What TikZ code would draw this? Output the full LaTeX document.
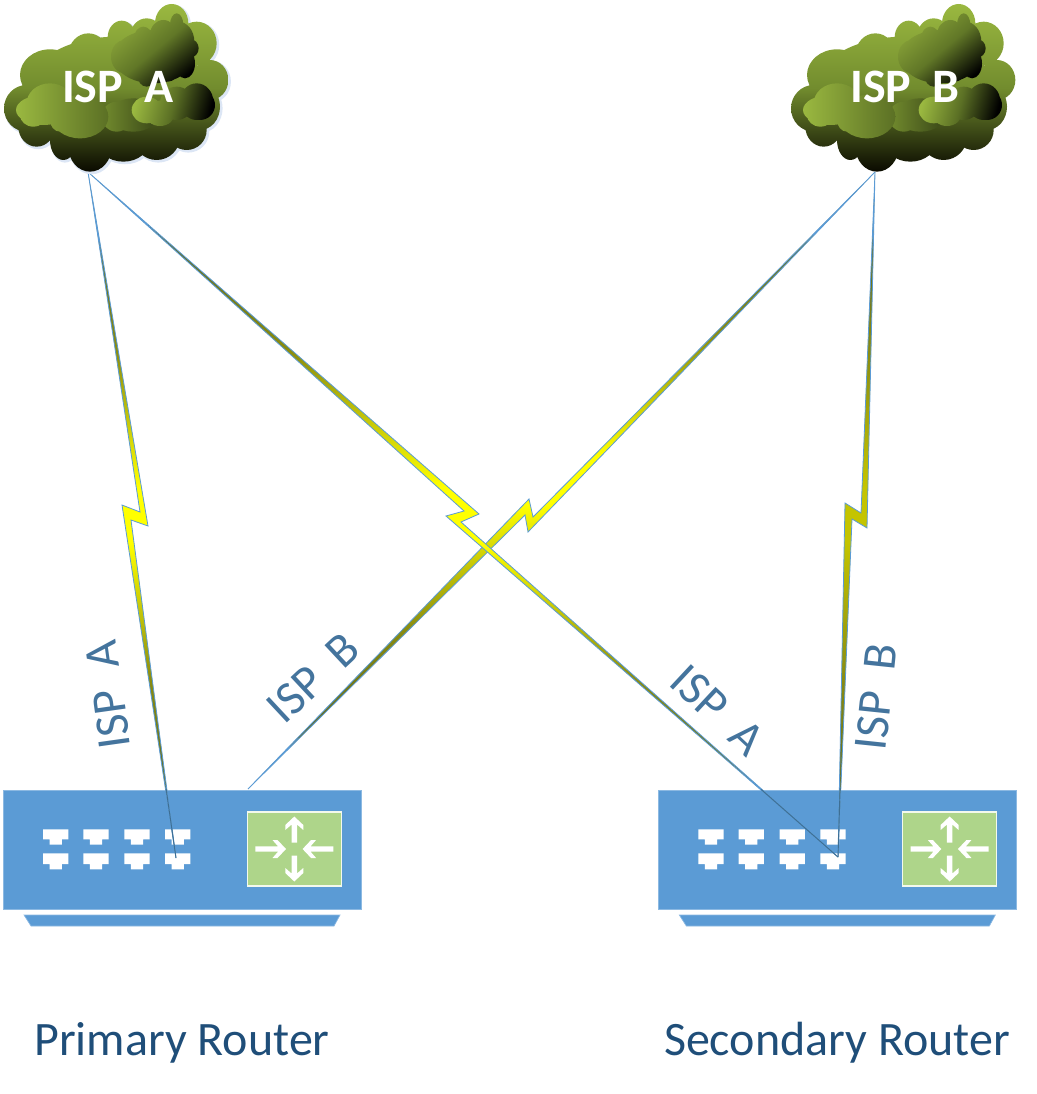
\documentclass[tikz,border=0pt]{standalone}
\usepackage{fontspec}
\setmainfont{Carlito}
\usetikzlibrary{calc}
\definecolor{rblue}{HTML}{5B9BD5}
\definecolor{rgreen}{HTML}{AED58A}
\definecolor{lblblue}{HTML}{44749D}
\definecolor{capblue}{HTML}{1F4E79}
\definecolor{cgreen}{HTML}{9AB840}
\definecolor{cmid}{HTML}{728C2E}
\definecolor{cdark}{HTML}{0A0A00}
\definecolor{boltdark}{HTML}{46552C}
\definecolor{boltolive}{HTML}{8A8C10}
\definecolor{boltsoft}{HTML}{C4C400}
\definecolor{halo}{HTML}{DCE6F5}
\definecolor{tailblue}{HTML}{3E6F94}
\pgfdeclareverticalshading{boltshade}{100bp}{color(0bp)=(boltdark); color(25bp)=(boltdark); color(38bp)=(boltolive); color(48bp)=(yellow); color(52bp)=(yellow); color(62bp)=(boltolive); color(75bp)=(boltdark); color(100bp)=(boltdark)}
\pgfdeclareverticalshading{boltshadedim}{100bp}{color(0bp)=(boltdark); color(25bp)=(boltdark); color(38bp)=(boltolive); color(48bp)=(boltsoft); color(52bp)=(boltsoft); color(62bp)=(boltolive); color(75bp)=(boltdark); color(100bp)=(boltdark)}
\tikzset{
  bolt/.style={draw=rblue,line width=0.6pt,line join=miter,shade,shading=boltshade},
  boltdim/.style={draw=rblue,line width=0.6pt,line join=miter,shade,shading=boltshadedim},
  linktail/.style={draw=tailblue,line width=0.7pt},
  chassis/.style={fill=rblue,draw=rblue!70!white,line width=0.5pt},
  panel/.style={fill=rgreen,draw=white!85!rgreen,line width=0.8pt},
  portmark/.style={fill=white,draw=none},
  rarrow/.style={fill=white,draw=none},
  cloudtxt/.style={text=white,font=\bfseries\fontsize{36pt}{36pt}\selectfont,inner sep=0pt},
  isplbl/.style={text=lblblue,font=\fontsize{36pt}{36pt}\selectfont,inner sep=0pt},
  caption/.style={text=capblue,font=\fontsize{36pt}{36pt}\selectfont,inner sep=0pt},
}
% cloud shapes as unions of ellipses, in zoomed units
\newcommand{\cloudouter}{(515,70) ellipse (50 and 58) (590,130) ellipse (60 and 65) (365,112) ellipse (42 and 50) (440,110) ellipse (50 and 55) (265,165) ellipse (60 and 65) (150,225) ellipse (90 and 77) (80,325) ellipse (68 and 70) (350,285) ellipse (280 and 175) (630,240) ellipse (55 and 60) (600,320) ellipse (60 and 70) (560,390) ellipse (60 and 60) (470,410) ellipse (70 and 70) (270,440) ellipse (65 and 75) (370,420) ellipse (80 and 65) (190,420) ellipse (40 and 60) (110,380) ellipse (55 and 60)}
\newcommand{\cloudinnera}{(460,170) ellipse (120 and 80) (530,75) ellipse (20 and 35) (490,105) ellipse (40 and 45) (535,125) ellipse (48 and 60) (430,115) ellipse (28 and 35) (555,190) ellipse (30 and 45) (570,145) ellipse (26 and 28) (375,170) ellipse (42 and 50) (440,225) ellipse (28 and 35) (500,210) ellipse (40 and 35)}
\newcommand{\cloudinnerb}{(130,330) ellipse (82 and 45) (150,310) ellipse (70 and 60) (240,350) ellipse (85 and 65) (180,360) ellipse (30 and 35) (100,345) ellipse (40 and 35)}
\newcommand{\cloudinnerc}{(400,345) ellipse (75 and 50) (350,350) ellipse (45 and 45)}
\newcommand{\cloudinnerd}{(440,330) ellipse (45 and 40) (480,340) ellipse (45 and 38) (530,310) ellipse (50 and 50) (590,305) ellipse (50 and 55) (600,315) ellipse (45 and 45)}
\newcommand{\cloudbody}{%
  \shade[top color=cgreen,bottom color=cdark,middle color=cmid] \cloudouter;
  \shade[left color=cmid,right color=cmid!50!black] \cloudinnerc;
  \shade[left color=cgreen!90!black,right color=black,middle color=cmid!85!black,shading angle=40] \cloudinnera;
  \shade[left color=cgreen,right color=cmid!80!black] \cloudinnerb;
  \shade[left color=cgreen,right color=black,middle color=cmid!80!black,shading angle=75] \cloudinnerd;
}
\newcommand{\portpair}[1]{%
  \fill[portmark] (#1,829.3) -- ++(25.3,0) -- ++(0,10) -- ++(-6.5,0) -- ++(0,5.4) -- ++(-12.3,0) -- ++(0,-5.4) -- ++(-6.5,0) -- cycle;
  \fill[portmark] (#1,853.3) -- ++(25.3,0) -- ++(0,10.7) -- ++(-6.5,0) -- ++(0,5.3) -- ++(-12.3,0) -- ++(0,-5.3) -- ++(-6.5,0) -- cycle;
}
\newcommand{\arrowmark}[3]{% rotation, start, tip
  \begin{scope}[shift={(294.3,849)},rotate=#1]
    \fill[rarrow] (#3,0) -- (#3-8.5,9) -- (#3-13.5,9) -- (#3-8,2.7) -- (#2,2.7) -- (#2,-2.7) -- (#3-8,-2.7) -- (#3-13.5,-9) -- (#3-8.5,-9) -- cycle;
  \end{scope}
}
\newcommand{\routerbody}{%
  \fill[chassis] (3,790) rectangle (361,909);
  \fill[chassis] (24,915) -- (340,915) -- (334,926) -- (31,926) -- cycle;
  \portpair{43} \portpair{83.3} \portpair{124.3} \portpair{165}
  \filldraw[panel] (247.3,812) rectangle (341.3,886);
  \arrowmark{90}{6.5}{32.5}
  \arrowmark{-90}{6.5}{32.5}
  \arrowmark{0}{-39}{-8.3}
  \arrowmark{180}{-39}{-8.3}
}
\begin{document}
\begin{tikzpicture}[x=0.75pt,y=-0.75pt]
\useasboundingbox (0,0) rectangle (1036,1094);
% end points of the links
\coordinate (apexA) at (88,172);
\coordinate (apexB) at (875,172);
\coordinate (portP) at (176,858);
\coordinate (portS) at (838,857);
\coordinate (edgeP) at (248,789);
\coordinate (kinkP) at (126.5,512);
\coordinate (kinkX) at (453.5,519);
\coordinate (kinkS) at (848.5,511);
% routers
\begin{scope}\routerbody\end{scope}
\begin{scope}[xshift=491.5pt]\routerbody\end{scope}
% links
\draw[bolt] (apexB) -- (533,517) -- (529,499) -- (edgeP) -- (525,515) -- (528,532) -- cycle;
\draw[bolt] (apexA) -- (479,514) -- (461,522) -- (portS) -- (446,516) -- (464,511) -- cycle;
\draw[bolt] (apexA) -- (148,526) -- (131,520) -- (portP) -- (122,505) -- (140,512) -- cycle;
\draw[boltdim] (apexB) -- (867,528) -- (852,519) -- (portS) -- (845,503) -- (861,513) -- cycle;
\draw[linktail] (portP) -- ($(portP)!0.2!(kinkP)$);
\draw[linktail] (portS) -- ($(portS)!0.2!(kinkX)$);
\draw[linktail] (portS) -- ($(portS)!0.2!(kinkS)$);
% clouds
\begin{scope}[x=0.25pt,y=-0.25pt]
  \draw[halo,line width=1.5pt,fill=halo,shift={(1.2pt,-1.2pt)}] \cloudouter;
  \cloudbody
\end{scope}
\begin{scope}[x=0.25pt,y=-0.25pt,xshift=590.25pt]
  \cloudbody
\end{scope}
\node[cloudtxt] (cloudA) at (118,87) {ISP\ \ A};
\node[cloudtxt] (cloudB) at (905,87) {ISP\ \ B};
% link labels
\node[isplbl,rotate=98] (lblPA) at (108,695) {ISP\ \ A};
\node[isplbl,rotate=43] (lblPB) at (313,678) {ISP\ \ B};
\node[isplbl,rotate=-43] (lblSA) at (718,710) {ISP\ \ A};
\node[isplbl,rotate=84] (lblSB) at (876,697) {ISP\ \ B};
% captions
\node[caption] (capP) at (182,1043) {Primary Router};
\node[caption] (capS) at (837,1043) {Secondary Router};
\end{tikzpicture}
\end{document}
